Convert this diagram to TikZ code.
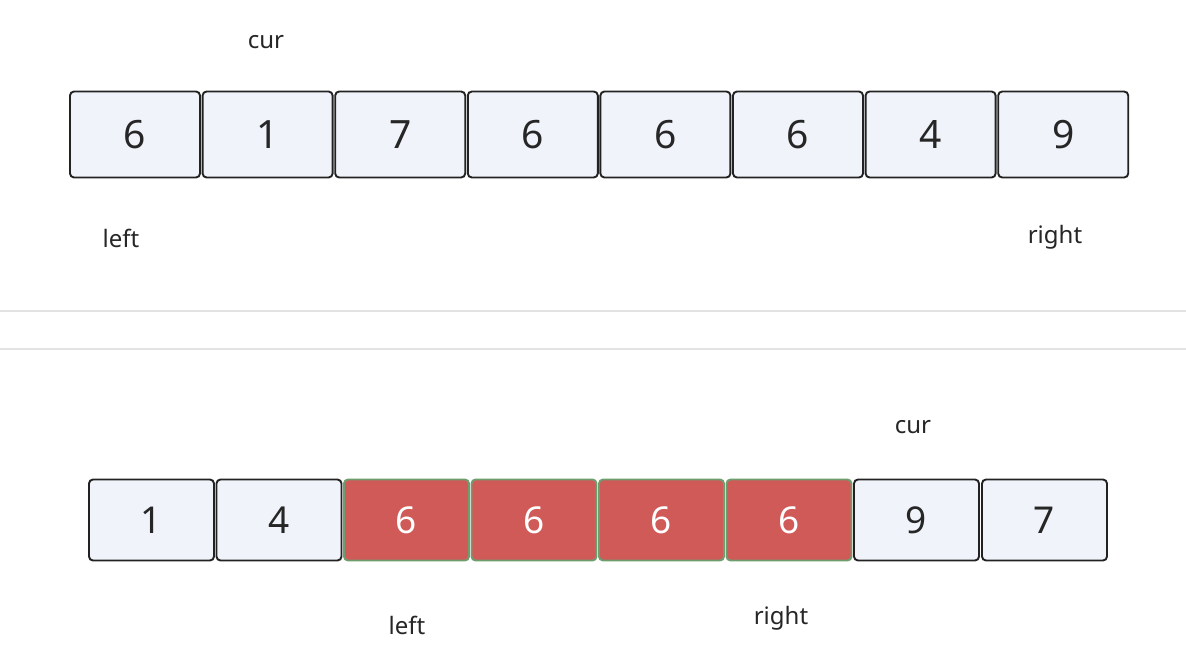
\documentclass[tikz,border=0pt]{standalone}
\usepackage{fontspec}
\setmainfont{Noto Sans}
\definecolor{cellfill}{HTML}{F0F3FA}
\definecolor{cellline}{HTML}{222222}
\definecolor{hotfill}{HTML}{D05A58}
\definecolor{hotline}{HTML}{6E9E6E}
\definecolor{sepline}{HTML}{E2E2E2}
\begin{document}
\begin{tikzpicture}[x=1pt,y=-1pt,
  cellA/.style={draw=cellline,fill=cellfill,line width=1.9pt,rounded corners=4pt,minimum width=130pt,minimum height=86pt,inner sep=0pt,font=\fontsize{39}{42}\selectfont,text=black!85},
  cellB/.style={draw=cellline,fill=cellfill,line width=1.9pt,rounded corners=4pt,minimum width=125pt,minimum height=81pt,inner sep=0pt,font=\fontsize{37}{40}\selectfont,text=black!85},
  hot/.style={cellB,draw=hotline,fill=hotfill,text=white},
  lbl/.style={font=\fontsize{24}{28}\selectfont,text=black!85,inner sep=0pt},
  sep/.style={draw=sepline,line width=1.5pt}]
\useasboundingbox (0,0) rectangle (1186,659);
\fill[white] (0,0) rectangle (1186,659);
% top row
\foreach \v [count=\i] in {6,1,7,6,6,6,4,9} {
  \node[cellA] (t\i) at ({135+(\i-1)*132.6},134.5) {\v};
}
\node[lbl] (tcur) at (266,42) {cur};
\node[lbl] (tleft) at (121,238) {left};
\node[lbl] (tright) at (1055,237) {right};
% separators
\coordinate (s1a) at (0,311); \coordinate (s1b) at (1186,311);
\coordinate (s2a) at (0,349); \coordinate (s2b) at (1186,349);
\draw[sep] (s1a) -- (s1b);
\draw[sep] (s2a) -- (s2b);
% bottom row
\node[cellB] (b1) at (151.5,520) {1};
\node[cellB] (b2) at (279,520) {4};
\node[hot] (b3) at (406.5,520) {6};
\node[hot] (b4) at (534,520) {6};
\node[hot] (b5) at (661.5,520) {6};
\node[hot] (b6) at (789,520) {6};
\node[cellB] (b7) at (916.5,520) {9};
\node[cellB] (b8) at (1044.5,520) {7};
\node[lbl] (bcur) at (913,427) {cur};
\node[lbl] (bleft) at (407,625) {left};
\node[lbl] (bright) at (781,618) {right};
\end{tikzpicture}
\end{document}
